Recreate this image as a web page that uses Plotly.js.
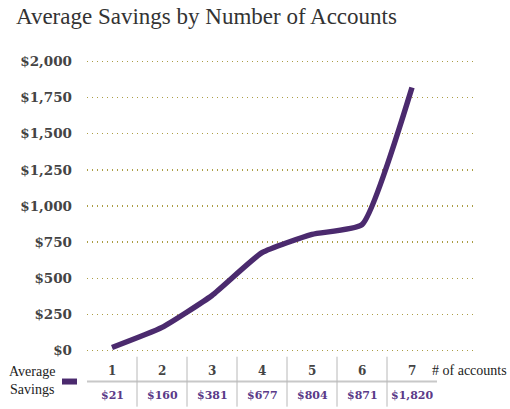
<!DOCTYPE html>
<html>
<head>
<meta charset="utf-8">
<script src="https://cdn.plot.ly/plotly-3.0.1.min.js"></script>
<style>
  html, body { margin: 0; padding: 0; background: #fff; }
  #chart { width: 510px; height: 409px; }
</style>
</head>
<body>
<div id="chart"></div>
<script>
// data
var accounts = [1, 2, 3, 4, 5, 6, 7];
var savings = [21, 160, 381, 677, 804, 871, 1820];
var yTicks = [0, 250, 500, 750, 1000, 1250, 1500, 1750, 2000];

var purple = '#4b2a6e';
var serif = 'Liberation Serif';
var boldSerif = 'DejaVu Serif';

function money(v) {
  return '$' + v.toLocaleString('en-US');
}

var xMin = 0.5, xMax = 8.3;
function px(x) { return (x - xMin) / (xMax - xMin); } // category -> paper x

var trace = {
  x: accounts,
  y: savings,
  type: 'scatter',
  mode: 'lines',
  name: 'Average Savings',
  line: { color: purple, width: 5.5, shape: 'spline', smoothing: 0.45 },
  hoverinfo: 'x+y'
};

// table below the plot
var shapes = [];
var annotations = [];
var hdrY = -0.018, valY = -0.097;

// horizontal separator
shapes.push({
  type: 'line', xref: 'paper', yref: 'paper',
  x0: px(0.5), x1: px(accounts.length + 0.5), y0: -0.052, y1: -0.052,
  line: { color: '#c8c8c8', width: 2 }
});
// vertical dividers
for (var i = 1; i < accounts.length; i++) {
  shapes.push({
    type: 'line', xref: 'paper', yref: 'paper',
    x0: px(accounts[i] - 0.5), x1: px(accounts[i] - 0.5), y0: 0.026, y1: -0.131,
    line: { color: '#b8b8b8', width: 1 }
  });
}
accounts.forEach(function (a, i) {
  annotations.push({
    xref: 'paper', yref: 'paper', x: px(a), y: hdrY,
    xanchor: 'center', yanchor: 'middle',
    text: String(a), showarrow: false,
    font: { family: boldSerif, size: 12, color: '#444', weight: 'bold' }
  });
  annotations.push({
    xref: 'paper', yref: 'paper', x: px(a), y: valY,
    xanchor: 'center', yanchor: 'middle',
    text: money(savings[i]), showarrow: false,
    font: { family: boldSerif, size: 11, color: '#5a3a88', weight: 'bold' }
  });
});
annotations.push({
  xref: 'paper', yref: 'paper', x: px(7.36), y: hdrY,
  xanchor: 'left', yanchor: 'middle',
  text: '# of accounts', showarrow: false,
  font: { family: serif, size: 14, color: '#222' }
});
// legend
annotations.push({
  xref: 'paper', yref: 'paper', x: -55 / 390, y: -0.05,
  xanchor: 'center', yanchor: 'middle',
  text: 'Average<br>Savings', showarrow: false, align: 'center',
  font: { family: serif, size: 14, color: '#222' }
});
shapes.push({
  type: 'line', xref: 'paper', yref: 'paper',
  x0: -25 / 390, x1: -10 / 390, y0: -0.052, y1: -0.052,
  line: { color: purple, width: 6 }
});

var layout = {
  width: 510,
  height: 409,
  margin: { l: 87, r: 33, t: 46.5, b: 43.8 },
  paper_bgcolor: '#fff',
  plot_bgcolor: '#fff',
  showlegend: false,
  title: {
    text: 'Average Savings by Number of Accounts',
    x: 16 / 510, xref: 'container', xanchor: 'left',
    y: 1 - 16 / 409, yref: 'container', yanchor: 'middle',
    font: { family: serif, size: 23, color: '#333' }
  },
  xaxis: {
    range: [xMin, xMax],
    showgrid: false, zeroline: false, showline: false,
    showticklabels: false, ticks: ''
  },
  yaxis: {
    range: [-100, 2100],
    tickvals: yTicks,
    ticktext: yTicks.map(money),
    tickfont: { family: boldSerif, size: 13.5, color: '#444', weight: 'bold' },
    ticklabelstandoff: 14,
    showgrid: true,
    gridcolor: '#ab9e45',
    gridwidth: 1.4,
    griddash: '1px,4px',
    zeroline: false, showline: false, ticks: ''
  },
  shapes: shapes,
  annotations: annotations
};

Plotly.newPlot('chart', [trace], layout, { displayModeBar: false, staticPlot: true });
</script>
</body>
</html>
